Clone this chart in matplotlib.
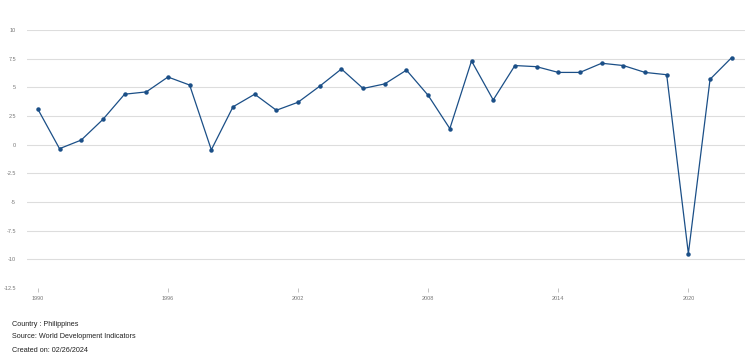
import matplotlib
matplotlib.use('Agg')
import matplotlib.pyplot as plt

years = list(range(1990, 2023))
growth = [3.1, -0.35, 0.4, 2.2, 4.4, 4.6, 5.9, 5.2, -0.45, 3.3,
          4.4, 3.0, 3.7, 5.1, 6.6, 4.9, 5.3, 6.5, 4.3, 1.4,
          7.3, 3.9, 6.9, 6.8, 6.3, 6.3, 7.1, 6.9, 6.3, 6.1,
          -9.5, 5.7, 7.6]
yticks = [10, 7.5, 5, 2.5, 0, -2.5, -5, -7.5, -10, -12.5]
xticks = [1990, 1996, 2002, 2008, 2014, 2020]
footer = ['Country : Philippines', 'Source: World Development Indicators',
          'Created on: 02/26/2024']

plt.rcParams['font.family'] = ['Liberation Sans', 'DejaVu Sans']
fig = plt.figure(figsize=(7.5, 3.6), dpi=100)
ax = fig.add_axes([0.036, 0.2, 0.957, 0.7167])

for t in yticks[:-1]:
    ax.axhline(t, color='#dddddd', lw=0.8, zorder=0)
ax.plot(years, growth, color='#1b4f87', lw=0.9, marker='o', ms=2.2, zorder=3)

ax.set_ylim(-12.5, 10)
ax.set_xlim(1989.5, 2022.6)
ax.set_yticks(yticks)
ax.set_yticklabels([('%g' % t) for t in yticks])
ax.set_xticks(xticks)
ax.tick_params(axis='y', length=0, labelsize=4, colors='#777777', pad=8)
ax.tick_params(axis='x', length=3, width=0.5, color='#aaaaaa', labelsize=4,
               labelcolor='#777777', pad=2.5)
for s in ax.spines.values():
    s.set_visible(False)

for i, line in enumerate(footer):
    fig.text(12 / 750, 1 - (324 + 13 * i) / 360, line, fontsize=5.2,
             color='#222222', va='center', ha='left')

fig.savefig('out.png', dpi=100)
